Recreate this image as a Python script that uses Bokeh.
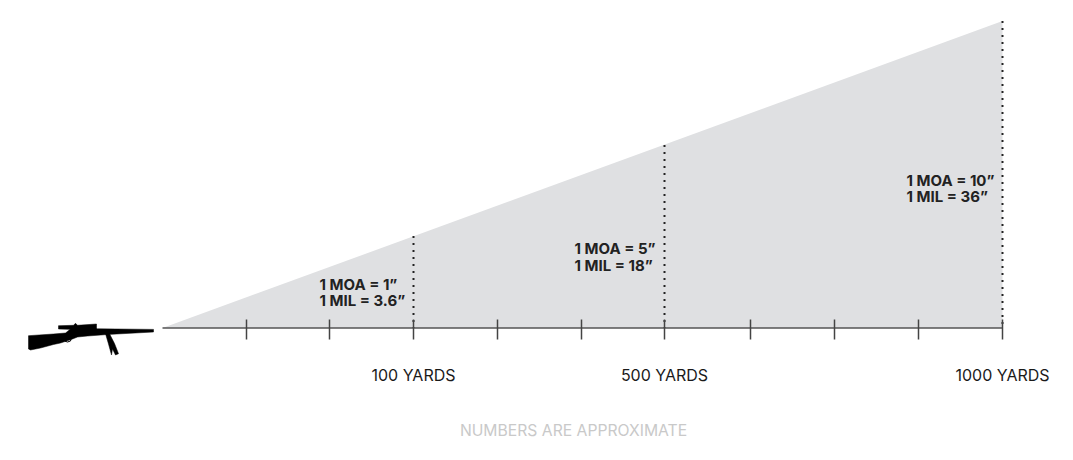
from bokeh.plotting import figure
from bokeh.core.properties import value
from bokeh.models import Range1d, LinearAxis, FixedTicker, ColumnDataSource
from bokeh.embed import file_html
from bokeh.resources import INLINE

# distance along the line
tick_positions = [84, 167, 251, 335, 419, 502, 588, 672, 756, 840]
tick_labels = {251: "100 YARDS", 502: "500 YARDS", 840: "1000 YARDS"}
marker_distance = [251, 502, 840]
marker_height = [92, 183, 307]
wedge_x = [0, 840, 840]
wedge_y = [0, 307, 0]

note_x = [157, 157, 412, 412, 744, 744]
note_y = [43.5, 27.5, 80, 63, 148, 132]
note_text = ["1 MOA = 1”", "1 MIL = 3.6”", "1 MOA = 5”", "1 MIL = 18”", "1 MOA = 10”", "1 MIL = 36”"]
footer_text = ["NUMBERS ARE APPROXIMATE"]

rifle_body_x = [-134, -109, -97, -92, -65, -9, -9, -55, -75, -85, -90, -96, -102, -109, -122, -132, -134]
rifle_body_y = [-7.7, -6, -5, -1, -0.8, -1.4, -4, -6.5, -8, -9, -11, -13, -15, -16.5, -20, -22, -21]
scope_x = [-104, -89, -87, -85, -66, -66, -79, -104]
scope_y = [2.3, 2.7, 4.7, 2.7, 4, -1, -1.7, -1]
bipod_x = [-57, -53, -48, -44, -47, -50, -51, -54]
bipod_y = [-5.7, -5.7, -15.5, -25.7, -27, -21, -27, -16]
guard_x = [-99, -98, -95, -92, -91]
guard_y = [-10, -13, -14, -13, -9]

FONT = "Inter"
p = figure(width=1057, height=444, output_backend="svg", toolbar_location=None,
           x_range=Range1d(-162, 895), y_range=Range1d(-116.5, 327.5),
           x_axis_type=None, y_axis_type=None, min_border=0,
           outline_line_color=None, background_fill_color="white")

p.patch(wedge_x, wedge_y, fill_color="#dfe0e2", line_color=None)
for d, h in zip(marker_distance, marker_height):
    p.line([d, d], [h, 0], line_color="#222222", line_width=2, line_dash=[2, 5])

axis = LinearAxis(fixed_location=0, ticker=FixedTicker(ticks=tick_positions),
                  major_label_overrides={t: tick_labels.get(t, "") for t in tick_positions},
                  major_tick_in=9, major_tick_out=11, minor_tick_line_color=None,
                  axis_line_color=None,
                  major_tick_line_color="#444444", major_tick_line_width=1.5,
                  major_label_standoff=26, major_label_text_font=FONT,
                  major_label_text_font_size="16px", major_label_text_color="#1a1a1a",
                  major_label_text_font_style="normal")
p.add_layout(axis, "below")
p.line([0, 840], [0, 0], line_color="#555555", line_width=1.5)

src = ColumnDataSource(dict(x=note_x, y=note_y, t=note_text))
p.text("x", "y", text="t", source=src, text_font=value(FONT), text_font_style="bold",
       text_font_size="15px", text_color="#222222", text_align="left", text_baseline="middle")
p.text([411], [-102], text=footer_text, text_font=value(FONT), text_font_size="15.7px",
       text_color="#c9c9c9", text_align="center", text_baseline="middle")

p.patch(rifle_body_x, rifle_body_y, fill_color="#000000", line_color="#000000", line_width=0.5)
p.patch(scope_x, scope_y, fill_color="#000000", line_color="#000000", line_width=0.5)
p.patch(bipod_x, bipod_y, fill_color="#000000", line_color="#000000", line_width=0.5)
p.line(guard_x, guard_y, line_color="#000000", line_width=1)

open("out.html", "w").write(file_html(p, INLINE))
